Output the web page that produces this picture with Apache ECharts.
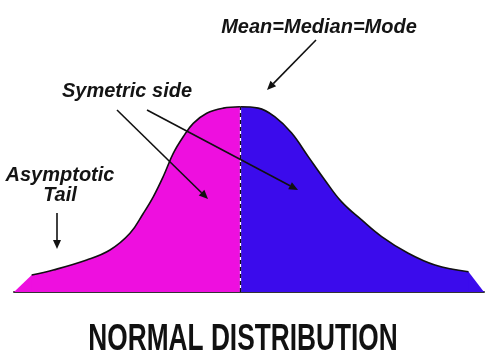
<!DOCTYPE html>
<html>
<head>
<meta charset="utf-8">
<script src="https://cdn.jsdelivr.net/npm/echarts@6/dist/echarts.min.js"></script>
<style>html,body{margin:0;padding:0;background:#fff}#c{width:490px;height:362px}</style>
</head>
<body>
<div id="c"></div>
<script>
// Values (x in sigma-like units, y in density units)
const leftCurve = [[-3.687,0.0368],[-3.305,0.0476],[-2.714,0.0693],[-2.301,0.0909],[-1.947,0.127],[-1.712,0.170],[-1.535,0.206],[-1.358,0.250],[-1.181,0.300],[-1.004,0.336],[-0.827,0.365],[-0.589,0.387],[-0.296,0.398],[0,0.401]];
const rightCurve = [[0,0.401],[0.324,0.398],[0.620,0.379],[0.915,0.344],[1.209,0.293],[1.505,0.242],[1.800,0.195],[2.154,0.156],[2.508,0.120],[2.979,0.0838],[3.452,0.0584],[4.045,0.0439]];
// end wedges (fill down to the baseline); last/first point tucks under the curve fill to avoid a seam
const leftWedge = [[-4,0],[-3.687,0.0368],[-3.5,0.0368]];
const rightWedge = [[3.85,0.0439],[4.045,0.0439],[4.32,0]];
const meanValue = 0;
const peakValue = 0.401;
const titleText = 'NORMAL DISTRIBUTION';
const labels = ['Mean=Median=Mode','Symetric side','Asymptotic','Tail'];

const MAGENTA = '#ee0fdf';
const BLUE = '#3b0bec';

function arrow(x1,y1,x2,y2){
  const a = Math.atan2(y2-y1,x2-x1), L=9, W=4;
  const bx = x2 - L*Math.cos(a), by = y2 - L*Math.sin(a);
  const px = -Math.sin(a)*W, py = Math.cos(a)*W;
  return [
    {type:'line', z:50, shape:{x1:x1,y1:y1,x2:bx,y2:by}, style:{stroke:'#111',lineWidth:1.6}, silent:true},
    {type:'polygon', z:50, shape:{points:[[x2,y2],[bx+px,by+py],[bx-px,by-py]]}, style:{fill:'#111'}, silent:true}
  ];
}
const labelFont = 'italic bold 20px "Liberation Sans", Arial, sans-serif';
function label(t,x,y){
  return {type:'text', z:50, x:x, y:y, style:{text:t, x:0, y:0, align:'center', verticalAlign:'middle', font:labelFont, fill:'#141414'}, silent:true};
}

const chart = echarts.init(document.getElementById('c'), null, {renderer:'canvas'});
chart.setOption({
  animation:false,
  backgroundColor:'#fff',
  grid:{left:14,right:6,top:61,bottom:70},
  xAxis:{type:'value',min:-4,max:4.32,
    axisLine:{show:true,onZero:false,lineStyle:{color:'#333',width:2}},
    axisTick:{show:false},axisLabel:{show:false},splitLine:{show:false}},
  yAxis:{type:'value',min:0,max:0.5,show:false},
  series:[
    {type:'line',data:leftWedge,symbol:'none',lineStyle:{width:0},areaStyle:{color:MAGENTA,opacity:1},clip:false,silent:true},
    {type:'line',data:rightWedge,symbol:'none',lineStyle:{width:0},areaStyle:{color:BLUE,opacity:1},clip:false,silent:true},
    {type:'line',data:leftCurve,smooth:0.4,symbol:'none',lineStyle:{color:'#111',width:1.6},areaStyle:{color:MAGENTA,opacity:1},clip:false,silent:true},
    {type:'line',data:rightCurve,smooth:0.4,symbol:'none',lineStyle:{color:'#111',width:1.6},areaStyle:{color:BLUE,opacity:1},clip:false,silent:true,
      markLine:{silent:true,symbol:'none',label:{show:false},animation:false,
        data:[
          [{coord:[meanValue,0],lineStyle:{color:'#ffffff',width:1.2,type:'solid'}},{coord:[meanValue,peakValue]}],
          [{coord:[meanValue,0],lineStyle:{color:'#111',width:1.3,type:[4,3]}},{coord:[meanValue,peakValue]}]
        ]}}
  ],
  graphic:[
    label(labels[0],319,27),
    label(labels[1],127,91),
    label(labels[2],60,175),
    label(labels[3],60,195),
    ...arrow(316,40,267,90),
    ...arrow(117,110,208,199),
    ...arrow(147,110,298,190),
    ...arrow(57,213,57,249),
    {type:'text', z:50, x:243, y:340, scaleX:0.71, style:{text:titleText, x:0, y:0, align:'center', verticalAlign:'middle', font:'bold 37px "Liberation Sans", Arial, sans-serif', fill:'#111'}, silent:true}
  ]
});
</script>
</body>
</html>
